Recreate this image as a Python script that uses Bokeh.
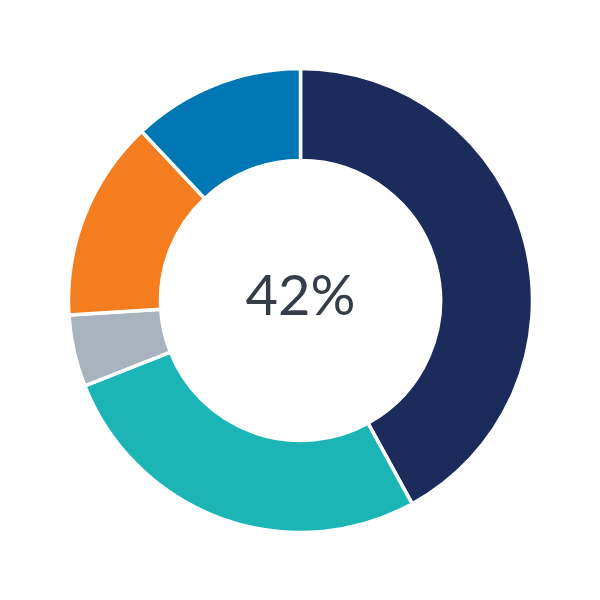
from math import pi
import numpy as np
from bokeh.plotting import figure, ColumnDataSource
from bokeh.core.properties import value
from bokeh.embed import file_html
from bokeh.resources import INLINE

# slices, clockwise from 12 o'clock
segments = ['Navy', 'Teal', 'Gray', 'Orange', 'Blue']
shares = [42, 27, 5, 14, 12]
colors = ['#1b2b5b', '#1cb5b6', '#a9b3c0', '#f47d20', '#0077b5']
center_label = '42%'

frac = np.array(shares, dtype=float) / sum(shares)
ends = np.cumsum(frac)
starts = ends - frac

source = ColumnDataSource(data={
    'segment': segments,
    'share': shares,
    'start': pi / 2 - starts * 2 * pi,
    'end': pi / 2 - ends * 2 * pi,
    'color': colors,
})

p = figure(
        width=584,
        height=584,
        x_range=(-300, 284),
        y_range=(-284, 300),
        output_backend='svg',
        toolbar_location=None,
        min_border=0,
    )

p.annular_wedge(x=0, y=0, inner_radius=140, outer_radius=232,
                start_angle='start', end_angle='end', direction='clock',
                color='color', line_color='white', line_width=3.5,
                source=source)

p.text(x=[0], y=[7], text=[center_label], text_align='center',
       text_baseline='middle', text_font=value('Lato'),
       text_font_size='56px', text_color='#343d48')

p.axis.visible = False
p.grid.visible = False
p.outline_line_color = None

open("out.html", "w").write(file_html(p, INLINE))
